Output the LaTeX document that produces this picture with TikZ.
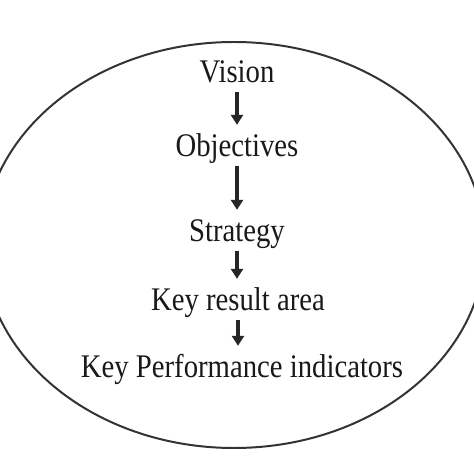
\documentclass[tikz,border=0pt]{standalone}
\usepackage{fontspec}
\newfontfamily\kpifont[FakeStretch=0.87]{Liberation Serif}
\usetikzlibrary{arrows.meta}
\tikzset{
   line/.style ={
      -, line width=0.7mm, color=black!80,
   },
   arrow/.style ={
      -{Triangle[length=10pt,width=12pt]}, line width=3.5pt, color=black!85,
      shorten >=10pt,
   },
   step label/.style ={
      font=\kpifont\fontsize{33}{36}\selectfont,
      text=black!90,
      inner sep=0pt,
      text height=22pt,
      text depth=9pt,
      anchor=base,
   },
}
\begin{document}
\begin{tikzpicture}[x=1pt,y=1pt]

      \useasboundingbox (0,0) rectangle (474,474);
      \fill[white] (0,0) rectangle (474,474);

      \draw[line] (234,229) ellipse [x radius=251, y radius=203];

      \node[step label] (vision) at (237,391) {Vision};
      \node[step label] (obj) at (237,317) {Objectives};
      \node[step label] (strat) at (237,232) {Strategy};
      \node[step label] (kra) at (238,163) {Key result area};
      \node[step label] (kpi) at (242,96) {Key Performance indicators};

      \draw[arrow] (vision.south) -- (vision.south |- obj.north);
      \draw[arrow] (obj.south)    -- (obj.south |- strat.north);
      \draw[arrow] (strat.south)  -- (strat.south |- kra.north);
      \draw[arrow] (kra.south)    -- (kra.south |- kpi.north);

\end{tikzpicture}
\end{document}
